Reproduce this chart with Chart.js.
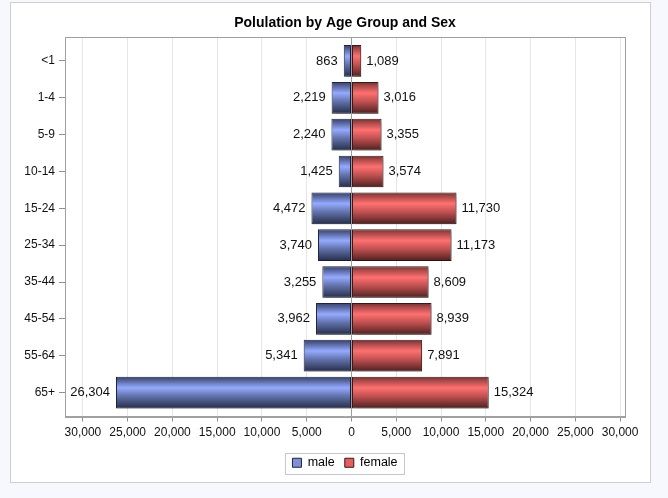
<!DOCTYPE html>
<html>
<head>
<meta charset="utf-8">
<script src="https://cdn.jsdelivr.net/npm/chart.js@4.4.1/dist/chart.umd.min.js"></script>
<style>
  html, body { margin: 0; padding: 0; background: #f6f8fd; }
  #panel {
    position: absolute; left: 10px; top: 2px;
    width: 639px; height: 479px;
    border: 1px solid #cfcfcf; background: #fff;
  }
  canvas { display: block; }
</style>
</head>
<body>
<div id="panel"><canvas id="chart" width="639" height="479"></canvas></div>
<script>
// data
const ageGroups = ['<1', '1-4', '5-9', '10-14', '15-24', '25-34', '35-44', '45-54', '55-64', '65+'];
const male = [863, 2219, 2240, 1425, 4472, 3740, 3255, 3962, 5341, 26304];
const female = [1089, 3016, 3355, 3574, 11730, 11173, 8609, 8939, 7891, 15324];
const xTicks = [-30000, -25000, -20000, -15000, -10000, -5000, 0, 5000, 10000, 15000, 20000, 25000, 30000];

const FONT = 'Liberation Sans, Arial, sans-serif';
const BAR_PCT = 0.86;

const fmt = v => Math.abs(v).toLocaleString('en-US');

// vertical gradient per bar, light band a bit above the middle
function barFill(stops, flat) {
    return function (ctx) {
        const chart = ctx.chart;
        if (ctx.type !== 'data' || !chart.chartArea) return flat;
        const y = chart.scales.y;
        const c = y.getPixelForValue(ctx.dataIndex);
        const h = Math.abs(y.getPixelForValue(1) - y.getPixelForValue(0)) * BAR_PCT;
        const g = chart.ctx.createLinearGradient(0, c - h / 2, 0, c + h / 2);
        stops.forEach(s => g.addColorStop(s[0], s[1]));
        return g;
    };
}

const maleStops = [[0, '#36406a'], [0.12, '#55639a'], [0.35, '#95aaff'], [0.62, '#6171aa'], [1, '#262d48']];
const femaleStops = [[0, '#6e3030'], [0.12, '#a84848'], [0.35, '#ff7070'], [0.62, '#c05050'], [1, '#4c2020']];

const frameAndZero = {
    id: 'frameAndZero',
    afterLayout(chart) {
        // centre title and legend over the plot area
        const a = chart.chartArea;
        if (chart.titleBlock) { chart.titleBlock.left = a.left; chart.titleBlock.right = a.right; }
        if (chart.legend) { chart.legend.left = a.left; chart.legend.right = a.right; }
    },
    beforeDatasetsDraw(chart) {
        const ctx = chart.ctx;
        ctx.save();
        ctx.shadowColor = 'rgba(0,0,0,0.28)';
        ctx.shadowBlur = 3;
        ctx.shadowOffsetX = 2;
        ctx.shadowOffsetY = 2;
    },
    afterDatasetsDraw(chart) {
        const ctx = chart.ctx;
        ctx.restore();
        const a = chart.chartArea;
        const x0 = Math.round(chart.scales.x.getPixelForValue(0)) + 0.5;
        ctx.save();
        ctx.strokeStyle = '#9c9c9c';
        ctx.lineWidth = 1;
        ctx.beginPath();
        ctx.moveTo(x0, a.top);
        ctx.lineTo(x0, a.bottom);
        ctx.stroke();
        ctx.strokeStyle = '#a0a0a0';
        ctx.strokeRect(Math.round(a.left) + 0.5, Math.round(a.top) + 0.5,
            Math.round(a.right - a.left), Math.round(a.bottom - a.top));

        // value labels at the bar ends
        ctx.font = '13px ' + FONT;
        ctx.fillStyle = '#111';
        ctx.textBaseline = 'middle';
        chart.data.datasets.forEach((ds, di) => {
            chart.getDatasetMeta(di).data.forEach((bar, i) => {
                const v = ds.data[i].x;
                if (v < 0) {
                    ctx.textAlign = 'right';
                    ctx.fillText(fmt(v), bar.x - 6, bar.y);
                } else {
                    ctx.textAlign = 'left';
                    ctx.fillText(fmt(v), bar.x + 5, bar.y);
                }
            });
        });
        ctx.restore();
    },
    afterDraw(chart) {
        // box round the legend
        const boxes = chart.legend && chart.legend.legendHitBoxes;
        if (!boxes || !boxes.length) return;
        const l = Math.min(...boxes.map(b => b.left));
        const r = Math.max(...boxes.map(b => b.left + b.width));
        const t = Math.min(...boxes.map(b => b.top));
        const b = Math.max(...boxes.map(b => b.top + b.height));
        const ctx = chart.ctx;
        ctx.save();
        ctx.strokeStyle = '#c8c8c8';
        ctx.lineWidth = 1;
        ctx.strokeRect(Math.round(l - 7) + 0.5, Math.round(t - 4) + 0.5, Math.round(r - l + 14), Math.round(b - t + 8));
        ctx.restore();
    }
};

new Chart(document.getElementById('chart'), {
    type: 'bar',
    data: {
        datasets: [{
            label: 'male',
            data: male.map((v, i) => ({ x: -v, y: i })),
            backgroundColor: barFill(maleStops, '#7d8ed2'),
            borderColor: '#1d243d',
            borderWidth: 1,
            borderSkipped: false,
            grouped: false,
            barPercentage: BAR_PCT,
            categoryPercentage: 1
        }, {
            label: 'female',
            data: female.map((v, i) => ({ x: v, y: i })),
            backgroundColor: barFill(femaleStops, '#e05e5e'),
            borderColor: '#3b1818',
            borderWidth: 1,
            borderSkipped: false,
            grouped: false,
            barPercentage: BAR_PCT,
            categoryPercentage: 1
        }]
    },
    options: {
        indexAxis: 'y',
        responsive: false,
        animation: false,
        layout: { padding: { left: 0, right: 25, top: 0, bottom: 3 } },
        plugins: {
            title: {
                display: true,
                text: 'Polulation by Age Group and Sex',
                color: '#000',
                font: { family: FONT, size: 14, weight: 'bold' },
                padding: { top: 12, bottom: 5.2 }
            },
            legend: {
                position: 'bottom',
                labels: {
                    boxWidth: 9,
                    boxHeight: 9,
                    padding: 10,
                    color: '#111',
                    font: { family: FONT, size: 12.5 },
                    generateLabels: chart => [
                        { text: 'male', fillStyle: '#7f90d6', strokeStyle: '#1d243d', lineWidth: 1, datasetIndex: 0 },
                        { text: 'female', fillStyle: '#e65e5e', strokeStyle: '#3b1818', lineWidth: 1, datasetIndex: 1 }
                    ]
                }
            },
            tooltip: { enabled: false }
        },
        scales: {
            x: {
                type: 'linear',
                min: -32000,
                max: 30550,
                afterBuildTicks: s => { s.ticks = xTicks.map(v => ({ value: v })); },
                afterFit: s => { s.height = 30; },
                ticks: {
                    callback: v => fmt(v),
                    color: '#111',
                    font: { family: FONT, size: 12 },
                    padding: 4,
                    maxRotation: 0,
                    autoSkip: false
                },
                grid: { color: '#e6e6e6', tickColor: '#909090', tickLength: 5 },
                border: { color: '#a0a0a0' }
            },
            y: {
                type: 'linear',
                reverse: true,
                offset: false,
                bounds: 'data',
                min: -0.65,
                max: 9.65,
                afterBuildTicks: s => { s.ticks = ageGroups.map((_, i) => ({ value: i })); },
                afterFit: s => { s.width = 54; },
                ticks: {
                    callback: v => ageGroups[v],
                    color: '#111',
                    font: { family: FONT, size: 12 },
                    padding: 4,
                    autoSkip: false
                },
                grid: { offset: false, drawOnChartArea: false, tickColor: '#909090', tickLength: 6 },
                border: { color: '#a0a0a0' }
            }
        }
    },
    plugins: [frameAndZero]
});
</script>
</body>
</html>
